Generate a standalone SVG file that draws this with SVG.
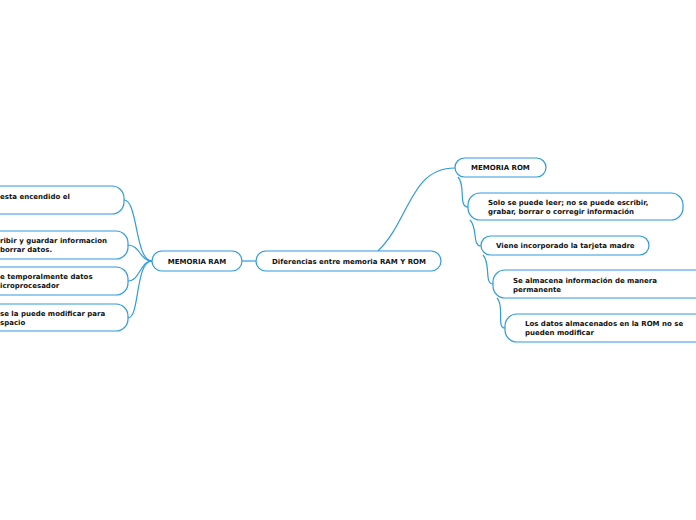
<svg xmlns="http://www.w3.org/2000/svg" width="696" height="520" viewBox="0 0 696 520">
<style>
.n{fill:#fff;stroke:#2f9be0;stroke-width:1.2}
.c{fill:none;stroke:#2f9be0;stroke-width:1.2}
text{font-family:"DejaVu Sans",Verdana,sans-serif;font-weight:bold;font-size:7px;fill:#111}
</style>
<rect width="696" height="520" fill="#fff"/>
<g id="connectors">
<path class="c" d="M242,261H256"/>
<path class="c" d="M378,251C410,220 410,168 455,168"/>
<path class="c" d="M152,261C135,261 138,200 124,200"/>
<path class="c" d="M152,261C140,261 140,245 128,245"/>
<path class="c" d="M152,261C140,261 140,281 128,281"/>
<path class="c" d="M152,261C135,261 140,318 128,318"/>
<path class="c" d="M458,177C466,185 458,207 468,207"/>
<path class="c" d="M470,220C478,228 472,246 481,246"/>
<path class="c" d="M483,255C491,263 484,284 493,284"/>
<path class="c" d="M497,298C505,306 496,328 505,328"/>
</g>
<g id="center"><rect class="n" x="256" y="251" width="185" height="20" rx="10"/><text x="272" y="264">Diferencias entre memoria RAM Y ROM</text></g>
<g id="ram"><rect class="n" x="152" y="251" width="90" height="20" rx="10"/><text x="197" y="264" text-anchor="middle">MEMORIA RAM</text></g>
<g id="rom"><rect class="n" x="455" y="158" width="91" height="19" rx="9.5"/><text x="471" y="170">MEMORIA ROM</text></g>
<g id="l1"><rect class="n" x="-40" y="186" width="164" height="28" rx="12"/><text x="0" y="199">esta encendido el</text></g>
<g id="l2"><rect class="n" x="-40" y="231" width="168" height="28" rx="12"/><text x="0" y="243">ribir y guardar informacion</text><text x="0" y="252">borrar datos.</text></g>
<g id="l3"><rect class="n" x="-40" y="267" width="168" height="28" rx="12"/><text x="0" y="279">e temporalmente datos</text><text x="0" y="288">icroprocesador</text></g>
<g id="l4"><rect class="n" x="-40" y="304" width="168" height="27" rx="12"/><text x="0" y="316">se la puede modificar para</text><text x="0" y="325">spacio</text></g>
<g id="r1"><rect class="n" x="468" y="193" width="215" height="27" rx="12"/><text x="488" y="205">Solo se puede leer; no se puede escribir,</text><text x="488" y="214">grabar, borrar o corregir información</text></g>
<g id="r2"><rect class="n" x="481" y="236" width="168" height="19" rx="9.5"/><text x="496" y="248">Viene incorporado la tarjeta madre</text></g>
<g id="r3"><rect class="n" x="493" y="270" width="230" height="28" rx="12"/><text x="513" y="283">Se almacena información de manera</text><text x="513" y="292">permanente</text></g>
<g id="r4"><rect class="n" x="505" y="314" width="230" height="28" rx="12"/><text x="525" y="326">Los datos almacenados en la ROM no se</text><text x="525" y="335">pueden modificar</text></g>
</svg>
